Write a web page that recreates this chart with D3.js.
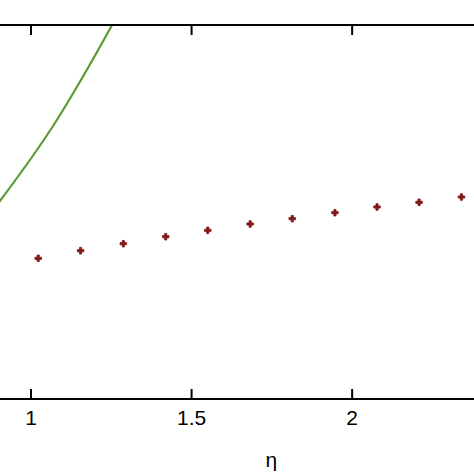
<!DOCTYPE html>
<html>
<head>
<meta charset="utf-8">
<script src="https://cdn.jsdelivr.net/npm/d3@7"></script>
<style>
  body { margin: 0; background: #fff; }
  svg { display: block; }
  text { font-family: "Liberation Sans", Arial, sans-serif; }
</style>
</head>
<body>
<svg id="chart" width="474" height="474"></svg>
<script>
/** eta positions of the red markers */
var pointEta = [1.024, 1.156, 1.289, 1.421, 1.552, 1.684, 1.815, 1.948, 2.079, 2.210, 2.342];
/** values of the red markers */
var pointVal = [1.407, 1.483, 1.553, 1.623, 1.687, 1.750, 1.803, 1.863, 1.920, 1.967, 2.020];

/** green curve (clipped by the top of the frame) */
var curveEta = [0.90, 1.08, 1.254, 1.30];
var curveVal = [1.96, 2.78, 3.74, 4.02];

var xTicks = [1, 1.5, 2];
var xLabel = "η";

/** plot frame */
var plotLeft = 0, plotRight = 474, plotTop = 25, plotBottom = 399;

var x = d3.scaleLinear().domain([0.905, 2.381]).range([plotLeft, plotRight]);
var y = d3.scaleLinear().domain([0, 3.74]).range([plotBottom, plotTop]);

var svg = d3.select("#chart");

svg.append("clipPath").attr("id", "plotClip")
    .append("rect")
    .attr("x", plotLeft).attr("y", plotTop)
    .attr("width", plotRight - plotLeft).attr("height", plotBottom - plotTop);

// green line
var line = d3.line()
    .x(function (d) { return x(d[0]); })
    .y(function (d) { return y(d[1]); })
    .curve(d3.curveNatural);

svg.append("path")
    .datum(d3.zip(curveEta, curveVal))
    .attr("clip-path", "url(#plotClip)")
    .attr("d", line)
    .attr("fill", "none")
    .attr("stroke", "#5d9b38")
    .attr("stroke-width", 2.2);

// red markers
svg.append("g").selectAll("path")
    .data(d3.zip(pointEta, pointVal))
    .enter()
    .append("path")
    .attr("transform", function (d) { return "translate(" + x(d[0]) + "," + y(d[1]) + ")"; })
    .attr("d", d3.symbol().type(d3.symbolCross).size(24))
    .attr("fill", "#801818")
    .attr("stroke", "#801818")
    .attr("stroke-width", 0.8);

// bottom axis, ticks pointing inward
var xAxisBottom = d3.axisBottom(x).tickValues(xTicks).tickSize(-10).tickPadding(11)
    .tickFormat(d3.format("~g"));
var gb = svg.append("g").attr("transform", "translate(0," + plotBottom + ")").call(xAxisBottom);
gb.select(".domain").remove();
gb.selectAll(".tick line").attr("stroke", "#000").attr("stroke-width", 2);
gb.selectAll(".tick text").attr("font-size", 21).attr("fill", "#000")
    .attr("font-family", "Liberation Sans, Arial, sans-serif");
gb.append("line").attr("x1", plotLeft).attr("x2", plotRight)
    .attr("stroke", "#000").attr("stroke-width", 2);

// top axis, no labels
var xAxisTop = d3.axisTop(x).tickValues(xTicks).tickSize(-10).tickFormat("");
var gt = svg.append("g").attr("transform", "translate(0," + plotTop + ")").call(xAxisTop);
gt.select(".domain").remove();
gt.selectAll(".tick line").attr("stroke", "#000").attr("stroke-width", 2);
gt.append("line").attr("x1", plotLeft).attr("x2", plotRight)
    .attr("stroke", "#000").attr("stroke-width", 2);

// axis title
svg.append("text")
    .attr("x", x(1.75))
    .attr("y", 467)
    .attr("text-anchor", "middle")
    .attr("font-size", 21)
    .text(xLabel);
</script>
</body>
</html>
